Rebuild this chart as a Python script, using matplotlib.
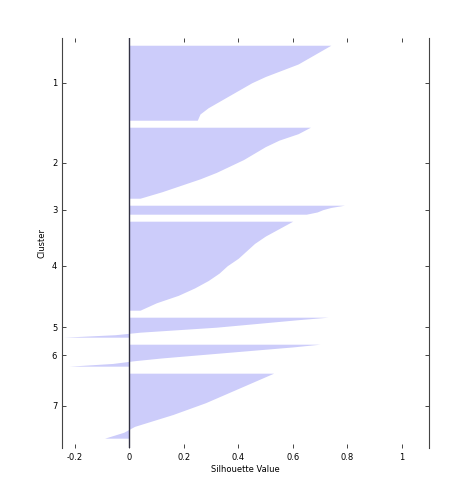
import numpy as np
import matplotlib
matplotlib.use('Agg')
import matplotlib.pyplot as plt

# silhouette values per cluster, sorted high -> low, evenly spaced down each cluster
sizes = [75, 71, 9, 89, 20, 22, 65]
gap = 7
sil = [
    [0.74, 0.70, 0.66, 0.62, 0.56, 0.50, 0.45, 0.41, 0.37, 0.33, 0.29, 0.26, 0.25],
    [0.665, 0.62, 0.55, 0.50, 0.46, 0.42, 0.37, 0.32, 0.26, 0.19, 0.12, 0.04],
    [0.79, 0.74, 0.71, 0.69, 0.65],
    [0.60, 0.55, 0.50, 0.46, 0.43, 0.40, 0.36, 0.33, 0.29, 0.24, 0.18, 0.10, 0.04],
    [0.73, 0.62, 0.52, 0.42, 0.32, 0.18, 0.04, -0.05, -0.24],
    [0.70, 0.60, 0.48, 0.36, 0.24, 0.12, 0.02, -0.06, -0.22],
    [0.53, 0.48, 0.43, 0.38, 0.33, 0.28, 0.22, 0.16, 0.09, 0.02, -0.02, -0.09],
]
labels = ['1', '2', '3', '4', '5', '6', '7']

fig = plt.figure(figsize=(4.74, 5.03), dpi=100)
ax = fig.add_axes([0.131, 0.109, 0.774, 0.815])

start = 7
centers = []
for n, vals in zip(sizes, sil):
    y = np.linspace(start, start + n, len(vals))
    ax.fill_betweenx(y, 0, vals, color='#ccccfa', lw=0)
    centers.append(start + n / 2)
    start += n + gap

ax.axvline(0, color='#333344', lw=1)
ax.set_xlim(-0.246, 1.10)
ax.set_ylim(410, 0)
ax.set_yticks(centers)
ax.set_yticklabels(labels)
ax.set_xticks([-0.2, 0, 0.2, 0.4, 0.6, 0.8, 1])
ax.set_xticklabels(['-0.2', '0', '0.2', '0.4', '0.6', '0.8', '1'])
ax.tick_params(direction='in', length=3, labelsize=6, color='#444444',
               top=True, right=True, width=0.7)
for s in ['top', 'bottom']:
    ax.spines[s].set_visible(False)
for s in ['left', 'right']:
    ax.spines[s].set_color('#444444')
ax.set_xlabel('Silhouette Value', fontsize=6, labelpad=2)
ax.set_ylabel('Cluster', fontsize=6)
fig.savefig('out.png')
